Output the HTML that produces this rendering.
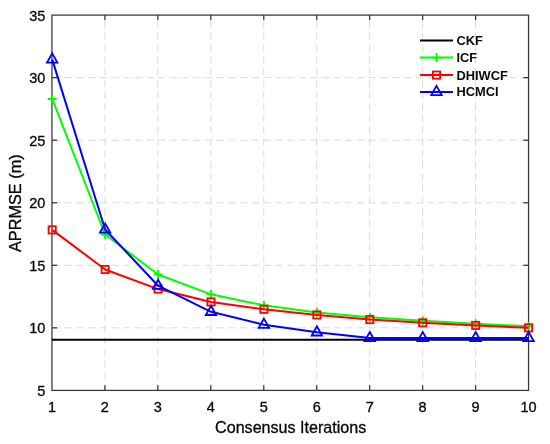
<!DOCTYPE html><html><head><meta charset="utf-8"><title>APRMSE vs Consensus Iterations</title>
<style>html,body{margin:0;padding:0;background:#fff}svg{display:block}text{font-family:"Liberation Sans",Arial,sans-serif;fill:#0a0a0a}</style></head><body>
<svg width="550" height="444" viewBox="0 0 550 444">
<rect width="550" height="444" fill="#fff"/>
<g stroke="#dbdbdb" stroke-width="1" stroke-dasharray="7.2 4.5" fill="none">
<line x1="104.91" y1="390.4" x2="104.91" y2="15.1" stroke-dashoffset="0.7"/>
<line x1="157.86" y1="390.4" x2="157.86" y2="15.1" stroke-dashoffset="0.7"/>
<line x1="210.82" y1="390.4" x2="210.82" y2="15.1" stroke-dashoffset="0.7"/>
<line x1="263.77" y1="390.4" x2="263.77" y2="15.1" stroke-dashoffset="0.7"/>
<line x1="316.73" y1="390.4" x2="316.73" y2="15.1" stroke-dashoffset="0.7"/>
<line x1="369.68" y1="390.4" x2="369.68" y2="15.1" stroke-dashoffset="0.7"/>
<line x1="422.64" y1="390.4" x2="422.64" y2="15.1" stroke-dashoffset="0.7"/>
<line x1="475.59" y1="390.4" x2="475.59" y2="15.1" stroke-dashoffset="0.7"/>
<line x1="51.95" y1="327.85" x2="528.55" y2="327.85" stroke-dashoffset="-1"/>
<line x1="51.95" y1="265.30" x2="528.55" y2="265.30" stroke-dashoffset="-1"/>
<line x1="51.95" y1="202.75" x2="528.55" y2="202.75" stroke-dashoffset="-1"/>
<line x1="51.95" y1="140.20" x2="528.55" y2="140.20" stroke-dashoffset="-1"/>
<line x1="51.95" y1="77.65" x2="528.55" y2="77.65" stroke-dashoffset="-1"/>
</g>
<rect x="51.95" y="15.1" width="476.60" height="375.30" fill="none" stroke="#363636" stroke-width="1.25"/>
<g stroke="#363636" stroke-width="1.25">
<line x1="104.91" y1="390.4" x2="104.91" y2="385.2"/>
<line x1="104.91" y1="15.1" x2="104.91" y2="20.3"/>
<line x1="157.86" y1="390.4" x2="157.86" y2="385.2"/>
<line x1="157.86" y1="15.1" x2="157.86" y2="20.3"/>
<line x1="210.82" y1="390.4" x2="210.82" y2="385.2"/>
<line x1="210.82" y1="15.1" x2="210.82" y2="20.3"/>
<line x1="263.77" y1="390.4" x2="263.77" y2="385.2"/>
<line x1="263.77" y1="15.1" x2="263.77" y2="20.3"/>
<line x1="316.73" y1="390.4" x2="316.73" y2="385.2"/>
<line x1="316.73" y1="15.1" x2="316.73" y2="20.3"/>
<line x1="369.68" y1="390.4" x2="369.68" y2="385.2"/>
<line x1="369.68" y1="15.1" x2="369.68" y2="20.3"/>
<line x1="422.64" y1="390.4" x2="422.64" y2="385.2"/>
<line x1="422.64" y1="15.1" x2="422.64" y2="20.3"/>
<line x1="475.59" y1="390.4" x2="475.59" y2="385.2"/>
<line x1="475.59" y1="15.1" x2="475.59" y2="20.3"/>
<line x1="51.95" y1="327.85" x2="57.150000000000006" y2="327.85"/>
<line x1="528.55" y1="327.85" x2="523.3499999999999" y2="327.85"/>
<line x1="51.95" y1="265.30" x2="57.150000000000006" y2="265.30"/>
<line x1="528.55" y1="265.30" x2="523.3499999999999" y2="265.30"/>
<line x1="51.95" y1="202.75" x2="57.150000000000006" y2="202.75"/>
<line x1="528.55" y1="202.75" x2="523.3499999999999" y2="202.75"/>
<line x1="51.95" y1="140.20" x2="57.150000000000006" y2="140.20"/>
<line x1="528.55" y1="140.20" x2="523.3499999999999" y2="140.20"/>
<line x1="51.95" y1="77.65" x2="57.150000000000006" y2="77.65"/>
<line x1="528.55" y1="77.65" x2="523.3499999999999" y2="77.65"/>
</g>
<g font-size="14.5" stroke="#0a0a0a" stroke-width="0.32">
<text x="51.95" y="411.7" text-anchor="middle">1</text>
<text x="104.91" y="411.7" text-anchor="middle">2</text>
<text x="157.86" y="411.7" text-anchor="middle">3</text>
<text x="210.82" y="411.7" text-anchor="middle">4</text>
<text x="263.77" y="411.7" text-anchor="middle">5</text>
<text x="316.73" y="411.7" text-anchor="middle">6</text>
<text x="369.68" y="411.7" text-anchor="middle">7</text>
<text x="422.64" y="411.7" text-anchor="middle">8</text>
<text x="475.59" y="411.7" text-anchor="middle">9</text>
<text x="528.55" y="411.7" text-anchor="middle">10</text>
<text x="45.4" y="395.80" text-anchor="end">5</text>
<text x="45.4" y="333.25" text-anchor="end">10</text>
<text x="45.4" y="270.70" text-anchor="end">15</text>
<text x="45.4" y="208.15" text-anchor="end">20</text>
<text x="45.4" y="145.60" text-anchor="end">25</text>
<text x="45.4" y="83.05" text-anchor="end">30</text>
<text x="45.4" y="20.50" text-anchor="end">35</text>
</g>
<text x="290.7" y="433.0" font-size="16.1" stroke="#0a0a0a" stroke-width="0.32" text-anchor="middle">Consensus Iterations</text>
<text transform="translate(20.7,203.2) rotate(-90)" font-size="16.3" stroke="#0a0a0a" stroke-width="0.32" text-anchor="middle">APRMSE (m)</text>
<line x1="51.95" y1="339.73" x2="528.55" y2="339.73" stroke="#000" stroke-width="2"/>
<polyline points="52.20,98.98 105.13,234.50 158.07,274.47 211.00,294.33 263.93,305.32 316.87,312.56 369.80,317.18 422.73,320.68 475.67,323.80 528.60,326.30" fill="none" stroke="#00ff00" stroke-width="2" stroke-linejoin="round"/>
<path d="M47.70,98.98H56.70M52.20,94.48V103.48" stroke="#00ff00" stroke-width="1.8" fill="none"/>
<path d="M100.63,234.50H109.63M105.13,230.00V239.00" stroke="#00ff00" stroke-width="1.8" fill="none"/>
<path d="M153.57,274.47H162.57M158.07,269.97V278.97" stroke="#00ff00" stroke-width="1.8" fill="none"/>
<path d="M206.50,294.33H215.50M211.00,289.83V298.83" stroke="#00ff00" stroke-width="1.8" fill="none"/>
<path d="M259.43,305.32H268.43M263.93,300.82V309.82" stroke="#00ff00" stroke-width="1.8" fill="none"/>
<path d="M312.37,312.56H321.37M316.87,308.06V317.06" stroke="#00ff00" stroke-width="1.8" fill="none"/>
<path d="M365.30,317.18H374.30M369.80,312.68V321.68" stroke="#00ff00" stroke-width="1.8" fill="none"/>
<path d="M418.23,320.68H427.23M422.73,316.18V325.18" stroke="#00ff00" stroke-width="1.8" fill="none"/>
<path d="M471.17,323.80H480.17M475.67,319.30V328.30" stroke="#00ff00" stroke-width="1.8" fill="none"/>
<path d="M524.10,326.30H533.10M528.60,321.80V330.80" stroke="#00ff00" stroke-width="1.8" fill="none"/>
<polyline points="52.20,229.88 105.13,269.47 158.07,289.08 211.00,301.95 263.93,309.31 316.87,314.94 369.80,319.56 422.73,322.80 475.67,325.43 528.60,327.86" fill="none" stroke="#ff0000" stroke-width="2" stroke-linejoin="round"/>
<rect x="48.60" y="226.28" width="7.2" height="7.2" stroke="#ff0000" stroke-width="1.8" fill="none"/>
<rect x="101.53" y="265.87" width="7.2" height="7.2" stroke="#ff0000" stroke-width="1.8" fill="none"/>
<rect x="154.47" y="285.48" width="7.2" height="7.2" stroke="#ff0000" stroke-width="1.8" fill="none"/>
<rect x="207.40" y="298.35" width="7.2" height="7.2" stroke="#ff0000" stroke-width="1.8" fill="none"/>
<rect x="260.33" y="305.71" width="7.2" height="7.2" stroke="#ff0000" stroke-width="1.8" fill="none"/>
<rect x="313.27" y="311.34" width="7.2" height="7.2" stroke="#ff0000" stroke-width="1.8" fill="none"/>
<rect x="366.20" y="315.96" width="7.2" height="7.2" stroke="#ff0000" stroke-width="1.8" fill="none"/>
<rect x="419.13" y="319.20" width="7.2" height="7.2" stroke="#ff0000" stroke-width="1.8" fill="none"/>
<rect x="472.07" y="321.83" width="7.2" height="7.2" stroke="#ff0000" stroke-width="1.8" fill="none"/>
<rect x="525.00" y="324.26" width="7.2" height="7.2" stroke="#ff0000" stroke-width="1.8" fill="none"/>
<polyline points="52.20,59.39 105.13,229.50 158.07,285.71 211.00,311.81 263.93,324.68 316.87,332.30 369.80,337.98 422.73,337.98 475.67,337.98 528.60,337.98" fill="none" stroke="#0000ff" stroke-width="2" stroke-linejoin="round"/>
<path d="M52.20,53.39L57.40,62.59H47.00Z" stroke="#0000ff" stroke-width="1.8" fill="none" stroke-linejoin="miter"/>
<path d="M105.13,223.50L110.33,232.70H99.93Z" stroke="#0000ff" stroke-width="1.8" fill="none" stroke-linejoin="miter"/>
<path d="M158.07,279.71L163.27,288.91H152.87Z" stroke="#0000ff" stroke-width="1.8" fill="none" stroke-linejoin="miter"/>
<path d="M211.00,305.81L216.20,315.01H205.80Z" stroke="#0000ff" stroke-width="1.8" fill="none" stroke-linejoin="miter"/>
<path d="M263.93,318.68L269.13,327.88H258.73Z" stroke="#0000ff" stroke-width="1.8" fill="none" stroke-linejoin="miter"/>
<path d="M316.87,326.30L322.07,335.50H311.67Z" stroke="#0000ff" stroke-width="1.8" fill="none" stroke-linejoin="miter"/>
<path d="M369.80,331.98L375.00,341.18H364.60Z" stroke="#0000ff" stroke-width="1.8" fill="none" stroke-linejoin="miter"/>
<path d="M422.73,331.98L427.93,341.18H417.53Z" stroke="#0000ff" stroke-width="1.8" fill="none" stroke-linejoin="miter"/>
<path d="M475.67,331.98L480.87,341.18H470.47Z" stroke="#0000ff" stroke-width="1.8" fill="none" stroke-linejoin="miter"/>
<path d="M528.60,331.98L533.80,341.18H523.40Z" stroke="#0000ff" stroke-width="1.8" fill="none" stroke-linejoin="miter"/>
<line x1="420" y1="40.4" x2="453" y2="40.4" stroke="#000" stroke-width="2"/>
<line x1="420" y1="57.6" x2="453" y2="57.6" stroke="#00ff00" stroke-width="2"/>
<path d="M432.00,57.60H441.00M436.50,53.10V62.10" stroke="#00ff00" stroke-width="1.8" fill="none"/>
<line x1="420" y1="75.1" x2="453" y2="75.1" stroke="#ff0000" stroke-width="2"/>
<rect x="432.90" y="71.50" width="7.2" height="7.2" stroke="#ff0000" stroke-width="1.8" fill="none"/>
<line x1="420" y1="91.9" x2="453" y2="91.9" stroke="#0000ff" stroke-width="2"/>
<path d="M436.50,85.90L441.70,95.10H431.30Z" stroke="#0000ff" stroke-width="1.8" fill="none" stroke-linejoin="miter"/>
<g font-size="12.85" font-weight="bold">
<text x="456.5" y="44.80">CKF</text>
<text x="456.5" y="62.00">ICF</text>
<text x="456.5" y="79.50">DHIWCF</text>
<text x="456.5" y="96.30">HCMCI</text>
</g>
</svg></body></html>
